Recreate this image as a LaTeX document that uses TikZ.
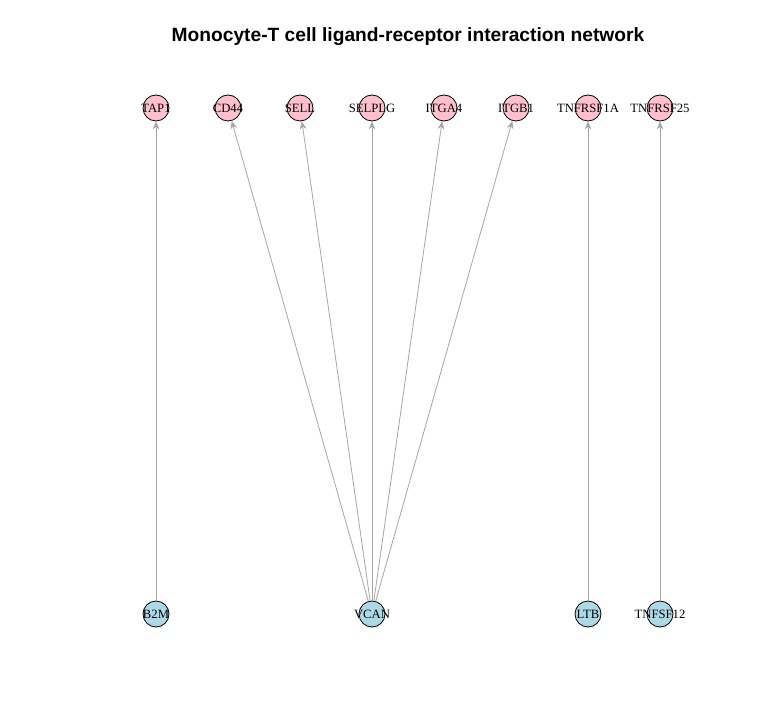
\documentclass[tikz,border=0pt]{standalone}
\usepackage{fontspec}
\setmainfont{Liberation Serif}
\newfontfamily\titlefont{Liberation Sans}
\usetikzlibrary{arrows.meta}
\definecolor{rcol}{RGB}{255,192,203}
\definecolor{lcol}{RGB}{173,216,230}
\begin{document}
\begin{tikzpicture}[x=0.75pt,y=-0.75pt,
  nd/.style={circle,draw=black,line width=0.6pt,minimum size=19.5pt,inner sep=0pt},
  lab/.style={font=\fontsize{9.5}{9.5}\selectfont,inner sep=0pt},
  rec/.style={nd,fill=rcol},
  lig/.style={nd,fill=lcol},
  ed/.style={draw=gray!70,line width=0.6pt,-{Stealth[length=6pt,width=5pt]}}]
\useasboundingbox (0,0) rectangle (771,727);
\node[font=\titlefont\bfseries\fontsize{14.4}{15}\selectfont] (title) at (408,37) {Monocyte-T cell ligand-receptor interaction network};
\foreach \n/\x in {TAP1/156,CD44/228,SELL/300,SELPLG/372,ITGA4/444,ITGB1/516,TNFRSF1A/588,TNFRSF25/660}
  \node[rec,label={[lab]center:\n}] (\n) at (\x,108) {};
\foreach \n/\x in {B2M/156,VCAN/372,LTB/588,TNFSF12/660}
  \node[lig,label={[lab]center:\n}] (\n) at (\x,614) {};
\draw[ed] (B2M) -- (TAP1);
\foreach \t in {CD44,SELL,SELPLG,ITGA4,ITGB1} \draw[ed] (VCAN) -- (\t);
\draw[ed] (LTB) -- (TNFRSF1A);
\draw[ed] (TNFSF12) -- (TNFRSF25);
\end{tikzpicture}
\end{document}
